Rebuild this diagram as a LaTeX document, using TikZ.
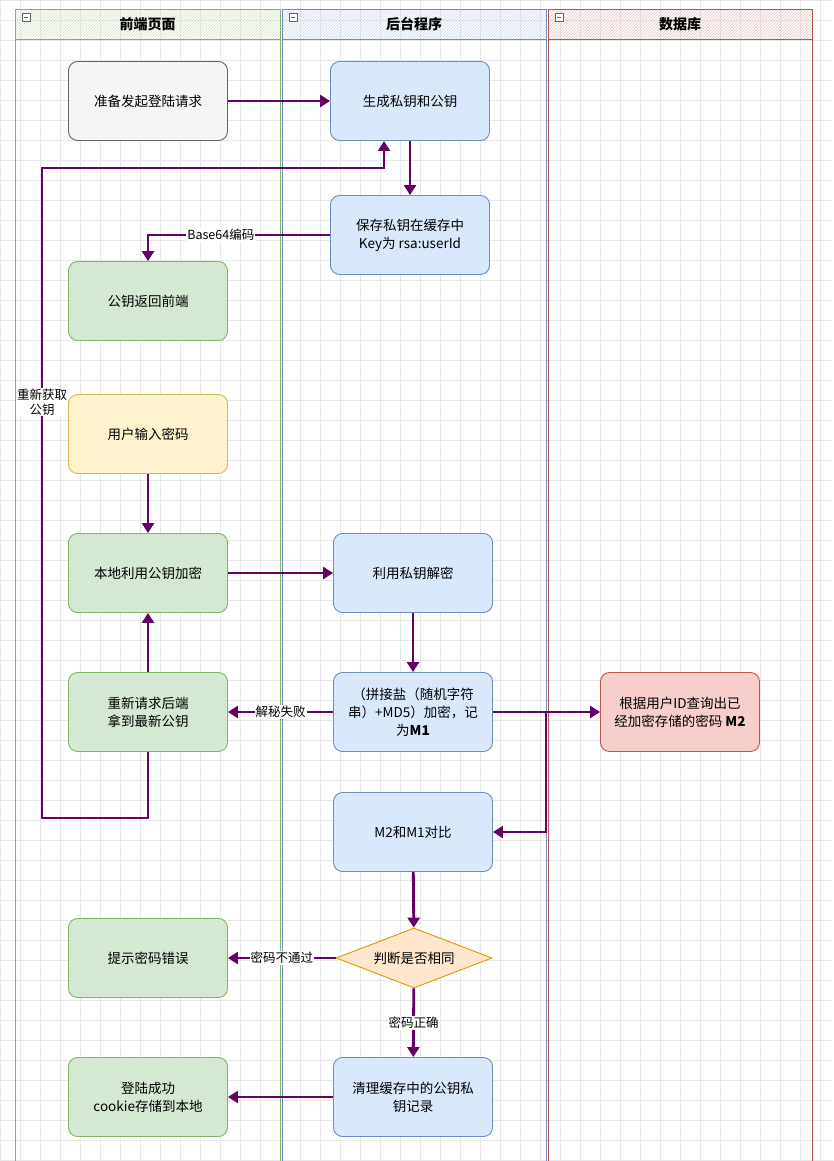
\documentclass[tikz,border=0pt]{standalone}
\usepackage{fontspec}
\setmainfont{Noto Sans CJK SC}
\usetikzlibrary{shapes.geometric,arrows.meta,patterns}
\definecolor{pur}{HTML}{660066}
\definecolor{bF}{HTML}{DAE8FC}\definecolor{bD}{HTML}{6C8EBF}
\definecolor{gF}{HTML}{D5E8D4}\definecolor{gD}{HTML}{82B366}
\definecolor{yF}{HTML}{FFF2CC}\definecolor{yD}{HTML}{D6B656}
\definecolor{rF}{HTML}{F8CECC}\definecolor{rD}{HTML}{B85450}
\definecolor{oF}{HTML}{FFE6CC}\definecolor{oD}{HTML}{D79B00}
\definecolor{hF}{HTML}{F5F5F5}\definecolor{hD}{HTML}{666666}
\begin{document}
\begin{tikzpicture}[x=1pt,y=-1pt,
  box/.style={rounded corners=9pt,minimum width=159pt,minimum height=79pt,align=center,font=\fontsize{13.5}{18}\selectfont,draw=#1,line width=0.9pt},
  gbox/.style={box=hD,fill=hF},
  bbox/.style={box=bD,fill=bF},
  grbox/.style={box=gD,fill=gF},
  ar/.style={draw=pur,line width=2.8pt,-{Triangle[length=10pt,width=12pt]}},
  lab/.style={fill=white,inner sep=1pt,font=\fontsize{12.5}{15}\selectfont,align=center},
  hd/.style={font=\bfseries\fontsize{14}{16}\selectfont}]
\useasboundingbox (0,0) rectangle (833,1161);
\fill[white] (0,0) rectangle (833,1161);
\foreach \x in {0,20,...,833} \draw[black!9] (\x,0) -- (\x,1161);
\foreach \y in {0,20,...,1161} \draw[black!9] (0,\y) -- (833,\y);
% lanes
\foreach \a/\b/\c/\t/\n in {15/280/gD/前端页面/l1,282/546/bD/后台程序/l2,548/812/rD/数据库/l3}{
  \fill[pattern=north east lines,pattern color=\c!35] (\a,10) rectangle (\b,40);
  \draw[\c,line width=1pt] (\a,1161) -- (\a,10) -- (\b,10) -- (\b,1161);
  \draw[\c,line width=1pt] (\a,40) -- (\b,40);
  \draw[black!60,fill=white] (\a+7,13) rectangle (\a+15,21); \draw[black!60] (\a+9,17)--(\a+13,17);
  \node[hd] (\n) at ({(\a+\b)/2},24) {\t};
}
\node[gbox] (a) at (148,101) {准备发起登陆请求};
\node[bbox] (b) at (410,101) {生成私钥和公钥};
\node[bbox] (c) at (410,235) {保存私钥在缓存中\\Key为 rsa:userId};
\node[grbox] (d) at (148,301) {公钥返回前端};
\node[box=yD,fill=yF] (e) at (148,434) {用户输入密码};
\node[grbox] (f) at (148,573) {本地利用公钥加密};
\node[bbox] (g) at (413,573) {利用私钥解密};
\node[grbox] (h) at (148,712) {重新请求后端\\拿到最新公钥};
\node[bbox] (i) at (413,712) {（拼接盐（随机字符\\串）+MD5）加密，记\\为\textbf{M1}};
\node[box=rD,fill=rF] (j) at (680,712) {根据用户ID查询出已\\经加密存储的密码 \textbf{M2}};
\node[bbox] (k) at (413,832) {M2和M1对比};
\node[diamond,draw=oD,fill=oF,line width=0.9pt,aspect=2.6,minimum width=156pt,minimum height=60pt,inner sep=0pt,font=\fontsize{13.5}{16}\selectfont] (l) at (414,958) {判断是否相同};
\node[grbox] (m) at (148,958) {提示密码错误};
\node[grbox] (n) at (148,1097) {登陆成功\\cookie存储到本地};
\node[bbox] (o) at (413,1097) {清理缓存中的公钥私\\钥记录};
\draw[ar] (a) -- (b);
\draw[ar] (b) -- (c);
\draw[ar] (c.west) -| node[lab,pos=0.3] {Base64编码} (d.north);
\draw[ar] (e) -- (f);
\draw[ar] (f) -- (g);
\draw[ar] (g) -- (i);
\draw[ar] (i) -- node[lab] {解秘失败} (h);
\draw[ar] (h) -- (f);
\draw[ar] (h.south) -- (148,818) -- (42,818) -- node[lab,pos=0.64] {重新获取\\公钥} (42,168) -- (384,168) -- (384,141);
\draw[ar] (i) -- (j);
\draw[ar] (546,712) -- (546,832) -- (k.east);
\draw[ar] (k) -- (l);
\draw[ar] (l) -- node[lab] {密码不通过} (m);
\draw[ar] (l) -- node[lab] {密码正确} (o);
\draw[ar] (o) -- (n);
\end{tikzpicture}
\end{document}
